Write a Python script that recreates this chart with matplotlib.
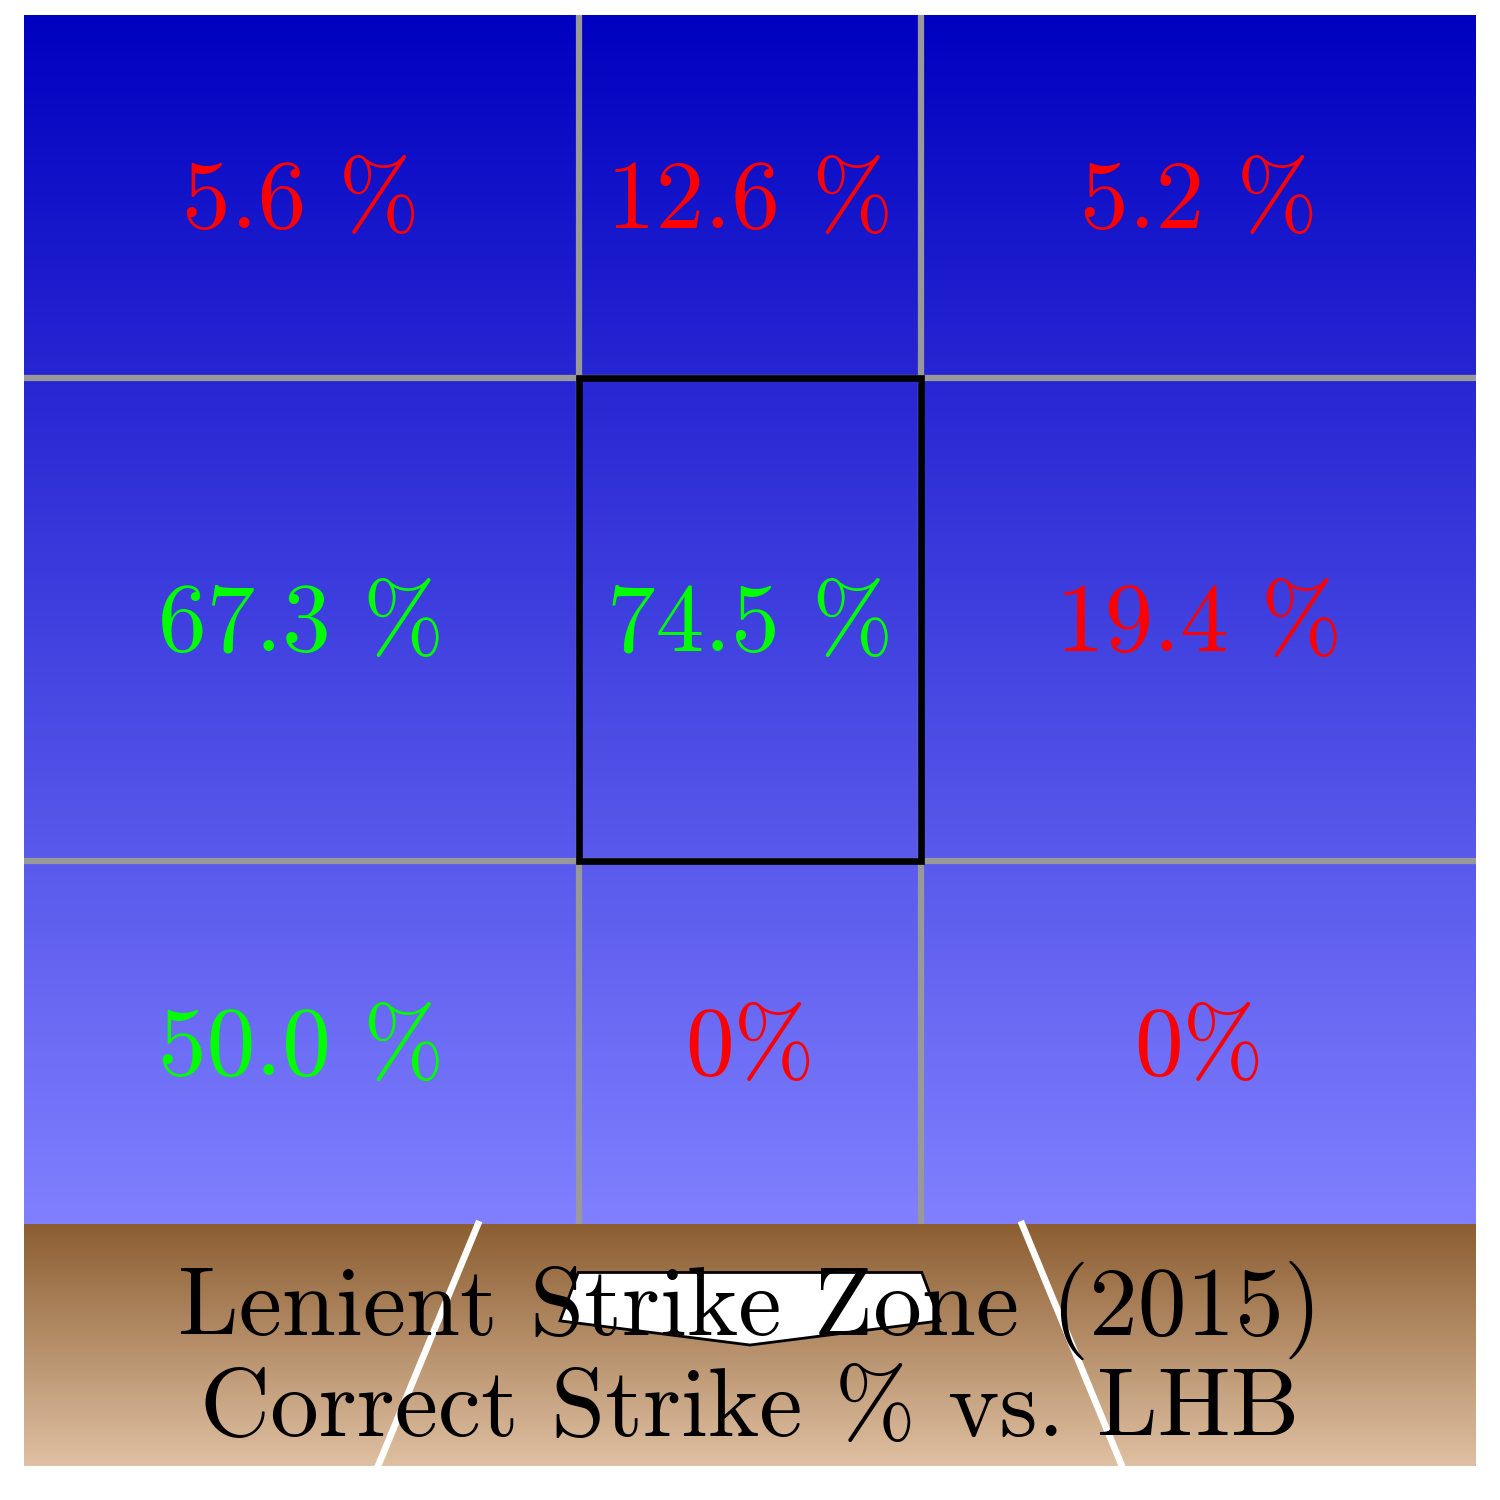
import numpy as np
import matplotlib.pyplot as plt
from matplotlib.colors import LinearSegmentedColormap
from matplotlib.patches import Polygon, Rectangle

plt.rcParams['font.family'] = ['cmr10', 'DejaVu Serif']
plt.rcParams['axes.unicode_minus'] = False

# strike zone grid (feet): column edges, row edges
col_edges = [-3.0, -17 / 24, 17 / 24, 3.0]
row_edges = [0.0, 1.5, 3.5, 5.0]

# correct strike % per cell, top row first (left -> right)
labels = [["5.6 %", "12.6 %", "5.2 %"],
          ["67.3 %", "74.5 %", "19.4 %"],
          ["50.0 %", "0%", "0%"]]
label_colors = [["red", "red", "red"],
                ["lime", "lime", "red"],
                ["lime", "red", "red"]]

title = "Lenient Strike Zone (2015)\nCorrect Strike % vs. LHB"

# home plate outline and foul lines (feet)
plate_x = [-0.71, 0.71, 0.785, 0.0, -0.785]
plate_y = [-0.20, -0.20, -0.40, -0.50, -0.40]
foul_left_x, foul_left_y = [-1.124, -1.537], [0.0, -1.0]
foul_right_x, foul_right_y = [1.124, 1.537], [0.0, -1.0]

fig = plt.figure(figsize=(15, 15), dpi=100)
ax = fig.add_axes([0.016, 0.0227, 0.968, 0.9673])
ax.set_xlim(-3, 3)
ax.set_ylim(-1, 5)
ax.axis('off')

# sky gradient
sky = LinearSegmentedColormap.from_list('sky', ['#8080ff', '#0000c0'])
grad = np.linspace(0, 1, 256).reshape(-1, 1)
ax.imshow(grad, cmap=sky, origin='lower', aspect='auto',
          extent=(-3, 3, 0, 5), zorder=0)

# dirt gradient
dirt = LinearSegmentedColormap.from_list('dirt', ['#dfc0a2', '#8c5e32'])
ax.imshow(grad, cmap=dirt, origin='lower', aspect='auto',
          extent=(-3, 3, -1, 0), zorder=0)

# grid lines
for x in col_edges[1:-1]:
    ax.plot([x, x], [row_edges[0], row_edges[-1]], color='#999999', lw=4.5,
            solid_capstyle='butt', zorder=1)
for y in row_edges[1:-1]:
    ax.plot([col_edges[0], col_edges[-1]], [y, y], color='#999999', lw=4.5,
            solid_capstyle='butt', zorder=1)

# strike zone box
ax.add_patch(Rectangle((col_edges[1], row_edges[1]), col_edges[2] - col_edges[1],
                       row_edges[2] - row_edges[1], fill=False, ec='black',
                       lw=4.8, zorder=2))

# cell labels
for i in range(3):
    yc = (row_edges[3 - i] + row_edges[2 - i]) / 2
    for j in range(3):
        xc = (col_edges[j] + col_edges[j + 1]) / 2
        ax.text(xc, yc - 0.03, labels[i][j], color=label_colors[i][j], fontsize=70,
                ha='center', va='center', zorder=3)

# foul lines and plate
ax.plot(foul_left_x, foul_left_y, color='white', lw=4.8, zorder=2)
ax.plot(foul_right_x, foul_right_y, color='white', lw=4.8, zorder=2)
ax.add_patch(Polygon(np.column_stack([plate_x, plate_y]), closed=True,
                     fc='white', ec='black', lw=2, zorder=2))

ax.text(0, -0.555, title, fontsize=70, ha='center', va='center',
        linespacing=1.12, zorder=3)

fig.savefig('out.png', dpi=100)
